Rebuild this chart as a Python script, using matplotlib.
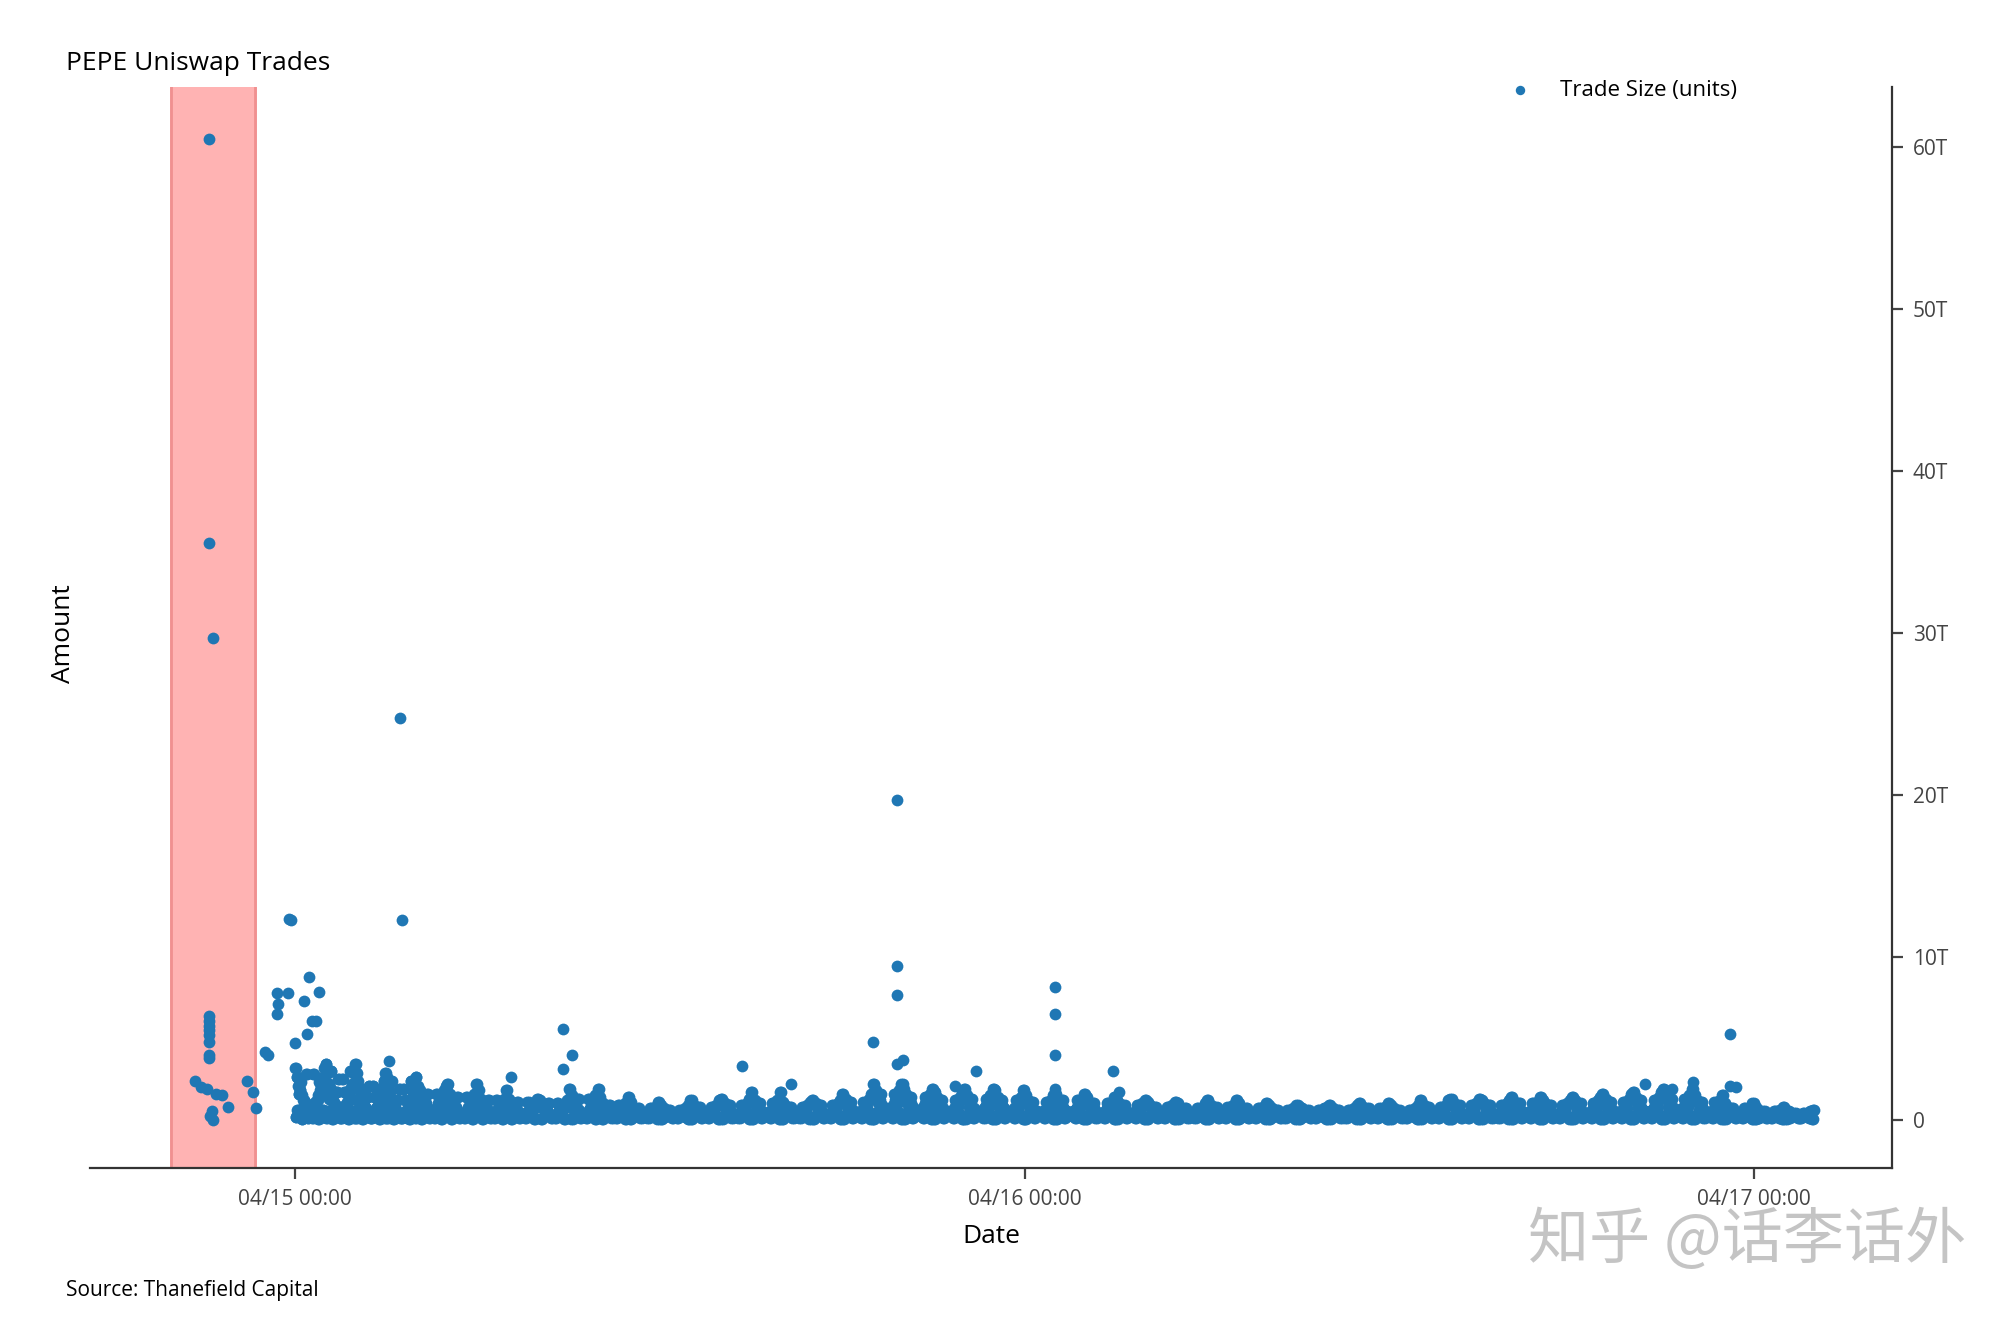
import matplotlib
matplotlib.use('agg')
import matplotlib.pyplot as plt
import matplotlib.dates as mdates
from matplotlib.ticker import FuncFormatter
import numpy as np
import pandas as pd

plt.rcParams['font.family'] = ['Open Sans', 'Noto Sans CJK SC', 'DejaVu Sans']

START = pd.Timestamp('2023-04-15 00:00')

# notable trades: hours from 04/15 00:00, amount in trillions
spike_hours = [-2.85, -2.85, -2.7, -2.85, -2.85, -2.85, -2.85, -2.85, -2.85, -2.85, -2.85,
               -3.3, -3.1, -2.9, -2.75, -2.8, -2.7, -2.6, -2.4, -2.2, -1.6, -1.4, -1.3,
               -1.0, -0.9, -0.6, -0.6, -0.55, -0.2, -0.15, -0.25, 0.0, 0.45, 0.3, 0.8, 0.55, 0.7, 0.4,
               3.45, 3.5, 3.1, 8.8, 8.8, 9.1, 7.1, 14.7, 16.3, 19.0, 19.8, 19.8, 19.8, 19.8, 20.0,
               22.4, 21.7, 25.0, 25.0, 25.0, 25.0, 26.9, 27.1, 47.2, 47.2, 47.4, 46.0, 44.4, 45.3]
spike_amounts = [60.5, 35.6, 29.7, 6.4, 6.1, 5.8, 5.5, 5.2, 4.8, 4.0, 3.8,
                 2.4, 2.0, 1.9, 0.5, 0.2, 0.0, 1.6, 1.5, 0.8, 2.4, 1.7, 0.7,
                 4.2, 4.0, 7.8, 6.5, 7.1, 12.4, 12.3, 7.8, 4.7, 8.8, 7.3, 7.9, 6.1, 6.1, 5.3,
                 24.8, 12.3, 3.6, 5.6, 3.1, 4.0, 2.6, 3.3, 2.2, 4.8, 19.7, 9.5, 7.7, 3.4, 3.7,
                 3.0, 2.1, 8.2, 6.5, 4.0, 1.9, 3.0, 1.7, 5.3, 2.1, 2.0, 2.3, 2.2, 1.9]

# dense trading band: amounts (T) of trades in each hour, starting at hour 0
band_amounts = [
    "3.2 2.6 2.1 1.8 1.5 1.2 0.9 0.7 0.5 0.3 0.2 0.1 2.8 1.1 0.4 0.05 2.3 1.6 0.6 0.15",
    "3.4 2.9 2.2 1.9 1.4 1.1 0.8 0.6 0.4 0.3 0.1 2.5 1.7 0.9 0.2 0.05 3.0 1.3 0.5 0.1",
    "2.9 2.4 1.8 1.5 1.2 0.9 0.7 0.5 0.3 0.2 0.1 2.1 1.4 0.6 0.2 0.05 1.9 1.0 0.4 0.1",
    "2.6 2.2 1.7 1.3 1.0 0.8 0.6 0.4 0.3 0.2 0.1 1.9 1.2 0.5 0.1 0.05 2.4 0.9 0.3 0.1",
    "2.1 1.8 1.4 1.1 0.9 0.7 0.5 0.3 0.2 0.1 1.6 1.0 0.4 0.05 1.3 0.6",
    "2.2 1.6 1.2 0.9 0.7 0.5 0.4 0.3 0.2 0.1 1.4 0.8 0.3 0.05 1.0 0.5",
    "1.8 1.3 1.0 0.8 0.6 0.4 0.3 0.2 0.1 1.2 0.7 0.3 0.05 0.9 0.5",
    "1.3 1.0 0.8 0.6 0.5 0.4 0.3 0.2 0.1 1.1 0.6 0.2 0.05 0.8",
    "1.2 0.9 0.7 0.5 0.4 0.3 0.2 0.1 1.0 0.6 0.2 0.05 0.8",
    "1.9 1.5 1.1 0.8 0.6 0.4 0.3 0.2 0.1 1.3 0.7 0.3 0.05 0.9",
    "1.4 1.0 0.8 0.6 0.4 0.3 0.2 0.1 0.9 0.5 0.2 0.05 0.7",
    "1.1 0.8 0.6 0.5 0.4 0.3 0.2 0.1 0.7 0.4 0.15 0.05",
    "0.9 0.7 0.6 0.4 0.3 0.2 0.1 0.6 0.35 0.15 0.05",
    "1.2 0.9 0.7 0.5 0.4 0.3 0.2 0.1 0.8 0.5 0.2 0.05",
    "1.3 1.0 0.8 0.6 0.4 0.3 0.2 0.1 0.9 0.5 0.2 0.05",
    "1.7 1.2 0.9 0.7 0.5 0.4 0.3 0.2 0.1 1.0 0.6 0.2 0.05",
    "1.1 0.9 0.7 0.5 0.4 0.3 0.2 0.1 0.8 0.5 0.2 0.05",
    "1.2 1.0 0.8 0.6 0.4 0.3 0.2 0.1 0.9 0.5 0.2 0.05",
    "1.6 1.3 1.0 0.8 0.6 0.4 0.3 0.2 0.1 1.1 0.7 0.3 0.05",
    "2.2 1.8 1.5 1.2 0.9 0.7 0.5 0.3 0.2 0.1 1.6 1.0 0.4 0.05",
    "1.9 1.6 1.3 1.0 0.8 0.6 0.4 0.3 0.2 0.1 1.4 0.9 0.4 0.05",
    "1.7 1.4 1.1 0.9 0.7 0.5 0.4 0.3 0.2 0.1 1.2 0.8 0.3 0.05",
    "1.9 1.5 1.2 0.9 0.7 0.5 0.4 0.3 0.2 0.1 1.3 0.8 0.3 0.05",
    "1.8 1.4 1.1 0.9 0.7 0.5 0.4 0.3 0.2 0.1 1.2 0.8 0.3 0.05",
    "1.5 1.2 1.0 0.8 0.6 0.5 0.4 0.3 0.2 0.1 1.1 0.7 0.3 0.05",
    "1.6 1.3 1.0 0.8 0.6 0.5 0.4 0.3 0.2 0.1 1.2 0.7 0.3 0.05",
    "1.4 1.1 0.9 0.7 0.5 0.4 0.3 0.2 0.1 1.0 0.6 0.2 0.05",
    "1.2 1.0 0.8 0.6 0.5 0.4 0.3 0.2 0.1 0.9 0.5 0.2 0.05",
    "1.1 0.9 0.7 0.5 0.4 0.3 0.2 0.1 0.8 0.5 0.2 0.05",
    "1.0 0.8 0.6 0.5 0.4 0.3 0.2 0.1 0.7 0.4 0.15 0.05",
    "1.2 0.9 0.7 0.5 0.4 0.3 0.2 0.1 0.8 0.5 0.2 0.05",
    "1.0 0.8 0.6 0.5 0.4 0.3 0.2 0.1 0.7 0.4 0.15 0.05",
    "0.9 0.7 0.6 0.4 0.3 0.2 0.1 0.6 0.35 0.15 0.05",
    "0.8 0.7 0.5 0.4 0.3 0.2 0.1 0.6 0.3 0.15 0.05",
    "0.9 0.7 0.6 0.4 0.3 0.2 0.1 0.6 0.35 0.15 0.05",
    "1.0 0.8 0.6 0.5 0.4 0.3 0.2 0.1 0.7 0.4 0.15 0.05",
    "0.9 0.7 0.6 0.4 0.3 0.2 0.1 0.6 0.35 0.15 0.05",
    "1.2 0.9 0.7 0.5 0.4 0.3 0.2 0.1 0.8 0.5 0.2 0.05",
    "1.3 1.0 0.8 0.6 0.4 0.3 0.2 0.1 0.9 0.5 0.2 0.05",
    "1.2 1.0 0.8 0.6 0.4 0.3 0.2 0.1 0.9 0.5 0.2 0.05",
    "1.4 1.1 0.9 0.7 0.5 0.4 0.3 0.2 0.1 1.0 0.6 0.2 0.05",
    "1.2 1.0 0.8 0.6 0.4 0.3 0.2 0.1 0.9 0.5 0.2 0.05",
    "1.4 1.2 0.9 0.7 0.5 0.4 0.3 0.2 0.1 1.0 0.6 0.2 0.05",
    "1.6 1.3 1.0 0.8 0.6 0.4 0.3 0.2 0.1 1.1 0.7 0.3 0.05",
    "1.7 1.4 1.1 0.8 0.6 0.5 0.3 0.2 0.1 1.2 0.7 0.3 0.05",
    "1.9 1.5 1.2 0.9 0.7 0.5 0.4 0.2 0.1 1.3 0.8 0.3 0.05",
    "1.5 1.2 1.0 0.8 0.6 0.4 0.3 0.2 0.1 1.1 0.6 0.2 0.05",
    "1.0 0.8 0.6 0.5 0.4 0.3 0.2 0.1 0.7 0.4 0.15 0.05",
    "0.8 0.6 0.5 0.4 0.3 0.2 0.1 0.5 0.3 0.1 0.05",
    "0.6 0.5 0.4 0.3 0.2 0.1 0.4 0.2 0.1 0.05",
]

# launch window highlighted in red
launch_start = pd.Timestamp('2023-04-14 19:55')
launch_end = pd.Timestamp('2023-04-14 22:40')

band_hours = []
band_values = []
for h, row in enumerate(band_amounts):
    vals = [float(v) for v in row.split()]
    # several passes through the hour so the band looks continuous
    for rep in range(4):
        offs = np.linspace(0, 1, len(vals), endpoint=False) + rep / (4 * len(vals))
        band_hours.extend(h + offs)
        band_values.extend(vals[::-1] if rep % 2 else vals)

hours = np.concatenate([band_hours, spike_hours])
amounts = np.concatenate([band_values, spike_amounts]) * 1e12
times = START + pd.to_timedelta(hours, unit='h')

fig = plt.figure(figsize=(10, 6.6), dpi=200)
ax = fig.add_axes([0.045, 0.115, 0.901, 0.819])

ax.axvspan(launch_start, launch_end, color='#ffb3b3', zorder=0)
ax.axvline(launch_start, color='#f09090', lw=1.0, zorder=0)
ax.axvline(launch_end, color='#f09090', lw=1.0, zorder=0)
ax.scatter(times, amounts, s=18, color='#1f77b4', label='Trade Size (units)', zorder=3, linewidths=0)

ax.set_xlim(pd.Timestamp('2023-04-14 17:15'), pd.Timestamp('2023-04-17 04:32'))
ax.set_ylim(-3e12, 63.7e12)
ax.xaxis.set_major_locator(mdates.DayLocator())
ax.xaxis.set_major_formatter(mdates.DateFormatter('%m/%d %H:%M'))
ax.yaxis.tick_right()
ax.yaxis.set_major_formatter(FuncFormatter(lambda v, p: '0' if v == 0 else '%dT' % round(v / 1e12)))
ax.set_yticks(np.arange(0, 61e12, 10e12))
ax.tick_params(labelsize=7.5, colors='#444444', length=4)
ax.tick_params(axis='both', labelcolor='#444444')
for s in ['top', 'left']:
    ax.spines[s].set_visible(False)
for s in ['bottom', 'right']:
    ax.spines[s].set_color('#333333')

ax.set_xlabel('Date', fontsize=9.5, labelpad=5)
fig.text(0.032, 0.52, 'Amount', rotation=90, fontsize=9.5, va='center', ha='center')
fig.text(0.033, 0.952, 'PEPE Uniswap Trades', fontsize=9.5, va='center')
fig.text(0.033, 0.022, 'Source: Thanefield Capital', fontsize=7.5, va='center')
ax.legend(loc='upper left', bbox_to_anchor=(0.77, 1.025), frameon=False, fontsize=8, markerscale=0.8)
fig.text(0.983, 0.06, '知乎 @话李话外', fontsize=22, color='#c4c4c4', ha='right', va='center',
         family=['Noto Sans CJK SC', 'DejaVu Sans'])

fig.savefig('out.png', dpi=200)
